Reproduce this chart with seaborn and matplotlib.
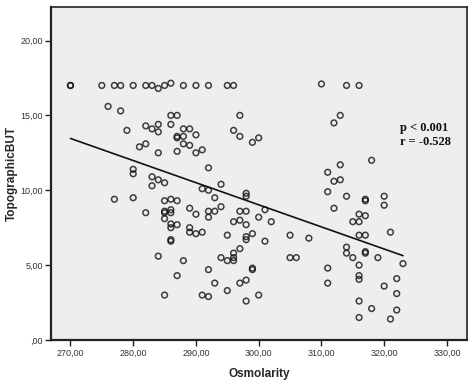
import matplotlib
matplotlib.use("Agg")
import matplotlib.pyplot as plt
import seaborn as sns
import pandas as pd
import numpy as np

# Osmolarity (x) and TopographicBUT (y) values
osmolarity = [
    270, 270, 275, 277, 278, 280, 282, 283, 284, 285, 286, 288, 290, 292, 295, 296, 310, 314, 316,
    276, 278, 279, 282, 283, 284, 284, 286, 287, 286, 287, 287, 281, 282, 284, 287,
    297, 288, 289, 288, 290, 288, 289, 290, 291, 296, 297, 299, 300,
    280, 280, 283, 284, 285, 283,
    292, 294, 291, 292, 293, 298, 298,
    277, 280, 285, 286, 287,
    313, 312, 318, 313, 311, 312, 313, 311, 314, 317, 317, 320, 312, 320,
    282, 285, 285, 286, 286, 285, 289, 290, 292, 293, 292, 294,
    286, 286, 287, 289, 289, 290, 291, 286, 286,
    295, 296, 297, 297, 298, 301, 300, 302, 298, 299, 298, 298, 301, 305, 308, 297,
    296, 296, 296, 294, 295, 305, 306, 299, 299, 298, 297, 300, 298,
    284, 288, 287, 292, 293, 295, 285, 291, 292,
    316, 317, 315, 316, 321, 316, 317, 314, 314, 315, 317, 317, 319, 323, 316, 311,
    316, 316, 311, 322, 320, 322, 316, 318, 322, 316, 321,
]
topographic_but = [
    17.0, 17.0, 17.0, 17.0, 17.0, 17.0, 17.0, 17.0, 16.8, 17.0, 17.15, 17.0, 17.0, 17.0, 17.0, 17.0, 17.1, 17.0, 17.0,
    15.6, 15.3, 14.0, 14.3, 14.1, 14.4, 13.9, 15.0, 15.0, 14.4, 13.6, 13.5, 12.9, 13.1, 12.5, 12.6,
    15.0, 14.1, 14.1, 13.6, 13.7, 13.1, 13.0, 12.5, 12.7, 14.0, 13.6, 13.2, 13.5,
    11.4, 11.1, 10.9, 10.7, 10.5, 10.3,
    11.5, 10.4, 10.1, 10.0, 9.5, 9.8, 9.6,
    9.4, 9.5, 9.3, 9.4, 9.3,
    15.0, 14.5, 12.0, 11.7, 11.2, 10.6, 10.7, 9.9, 9.6, 9.4, 9.3, 9.6, 8.8, 9.0,
    8.5, 8.6, 8.5, 8.7, 8.5, 8.1, 8.8, 8.4, 8.6, 8.6, 8.2, 8.9,
    7.75, 7.5, 7.7, 7.5, 7.2, 7.1, 7.2, 6.7, 6.6,
    7.0, 7.9, 8.0, 8.6, 8.6, 8.7, 8.2, 7.9, 7.7, 7.1, 6.9, 6.7, 6.6, 7.0, 6.8, 6.1,
    5.8, 5.5, 5.3, 5.5, 5.3, 5.5, 5.5, 4.8, 4.7, 4.0, 3.8, 3.0, 2.6,
    5.6, 5.3, 4.3, 4.7, 3.8, 3.3, 3.0, 3.0, 2.9,
    8.4, 8.3, 7.9, 7.9, 7.2, 7.0, 7.0, 6.2, 5.8, 5.5, 5.8, 5.9, 5.5, 5.1, 5.0, 4.8,
    4.3, 4.05, 3.8, 4.1, 3.6, 3.1, 2.6, 2.1, 2.0, 1.5, 1.4,
]

x_ticks = [270, 280, 290, 300, 310, 320, 330]
x_tick_labels = ["270,00", "280,00", "290,00", "300,00", "310,00", "320,00", "330,00"]
y_ticks = [0, 5, 10, 15, 20]
y_tick_labels = [",00", "5,00", "10,00", "15,00", "20,00"]
stats_text = "p < 0.001\nr = -0.528"

df = pd.DataFrame({"Osmolarity": osmolarity, "TopographicBUT": topographic_but})

sns.set_theme(style="white")
fig = plt.figure(figsize=(4.74, 3.86), dpi=100)
ax = fig.add_axes([0.1076, 0.1192, 0.8776, 0.8627])
ax.set_facecolor("#EEEEEE")

sns.regplot(
    data=df, x="Osmolarity", y="TopographicBUT", ax=ax, ci=None,
    scatter_kws=dict(s=17, facecolors="none", edgecolors="#111111", linewidths=1.1),
    line_kws=dict(color="#111111", lw=1.2),
)

ax.set_xlim(266.9, 333.2)
ax.set_ylim(0, 22.24)
ax.set_xticks(x_ticks)
ax.set_xticklabels(x_tick_labels, family="Liberation Sans")
ax.set_yticks(y_ticks)
ax.set_yticklabels(y_tick_labels, family="Liberation Sans")
ax.tick_params(axis="both", which="major", direction="out", length=4, width=1,
               color="#222222", labelsize=6.5, labelcolor="#333333", pad=2,
               bottom=True, left=True)

for side in ["left", "bottom", "top", "right"]:
    ax.spines[side].set_color("#222222")
    ax.spines[side].set_linewidth(1.2)
ax.spines["left"].set_linewidth(1.6)
ax.spines["bottom"].set_linewidth(1.6)

ax.set_xlabel("Osmolarity", fontsize=8.5, fontweight="bold", family="Liberation Sans", labelpad=8)
ax.set_ylabel("TopographicBUT", fontsize=8.5, fontweight="bold", family="Liberation Sans",
              va="center")
ax.yaxis.set_label_coords(-0.094, 0.5)

ax.text(0.838, 0.616, stats_text, transform=ax.transAxes, fontsize=9, fontweight="bold",
        family="Liberation Serif", ha="left", va="center", linespacing=1.15, color="#111111")

fig.savefig("out.png", dpi=100, facecolor="white")
